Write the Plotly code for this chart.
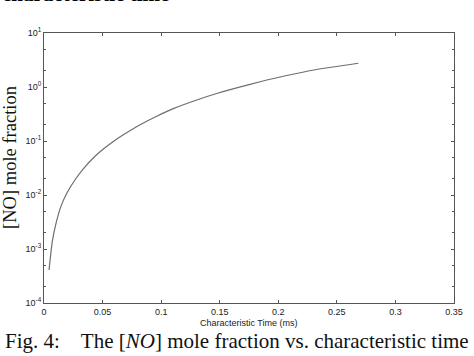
import plotly.graph_objects as go

# Data
time_ms = [0.0043, 0.0071, 0.0100, 0.0143, 0.0199, 0.0271, 0.0341, 0.0427,
           0.0512, 0.0598, 0.0677, 0.0820, 0.0962, 0.1104, 0.1304, 0.1474,
           0.1759, 0.2043, 0.2328, 0.2683]
no_frac = [4.08e-4, 1.38e-3, 2.82e-3, 6.03e-3, 0.0112, 0.0200, 0.0316, 0.0501,
           0.0724, 0.100, 0.130, 0.200, 0.288, 0.398, 0.575, 0.759,
           1.12, 1.58, 2.11, 2.75]

x_ticks = [0, 0.05, 0.1, 0.15, 0.2, 0.25, 0.3, 0.35]
x_ticktext = ["0", "0.05", "0.1", "0.15", "0.2", "0.25", "0.3", "0.35"]
y_exps = [-4, -3, -2, -1, 0, 1]

axis_col = "#555555"
tick_font = dict(family="Liberation Sans, Arial, sans-serif", size=9, color="#222222")
serif = "Liberation Serif, Times New Roman, serif"

fig = go.Figure()
fig.add_trace(go.Scatter(x=time_ms, y=no_frac, mode="lines",
                         line=dict(color="#6e6e6e", width=1.2, shape="spline", smoothing=0.6),
                         showlegend=False, hoverinfo="skip"))

fig.update_layout(
    width=474, height=356,
    margin=dict(l=44, r=20, t=33, b=53),
    paper_bgcolor="white", plot_bgcolor="white",
    xaxis=dict(range=[0, 0.35], tickvals=x_ticks, ticktext=x_ticktext,
               ticks="inside", ticklen=3, tickcolor=axis_col,
               showline=True, linecolor=axis_col, linewidth=1, mirror="ticks",
               showgrid=False, zeroline=False, tickfont=tick_font),
    yaxis=dict(type="log", range=[-4, 1],
               tickvals=[10 ** e for e in y_exps],
               ticktext=["10<sup>%d</sup>" % e for e in y_exps],
               ticks="inside", ticklen=3, tickcolor=axis_col,
               minor=dict(ticks="inside", ticklen=2, tickcolor=axis_col, showgrid=False),
               showline=True, linecolor=axis_col, linewidth=1, mirror="allticks",
               showgrid=False, zeroline=False, tickfont=tick_font),
    annotations=[
        dict(text="[NO] mole fraction", textangle=-90, xref="paper", yref="paper",
             x=-0.083, y=0.541, xanchor="center", yanchor="middle", showarrow=False,
             font=dict(family=serif, size=18.5, color="#111111")),
        dict(text="Characteristic Time (ms)", xref="paper", yref="paper",
             x=0.5, y=-0.073, xanchor="center", yanchor="middle", showarrow=False,
             font=dict(family="Liberation Sans, Arial, sans-serif", size=9, color="#222222")),
        dict(text="Fig. 4:\u00a0\u00a0\u00a0\u00a0The [<i>NO</i>] mole fraction vs. characteristic time",
             xref="paper", yref="paper", x=-0.1, y=-0.142, xanchor="left", yanchor="middle",
             showarrow=False, font=dict(family=serif, size=21, color="#111111")),
        dict(text="<b>characteristic time</b>", xref="paper", yref="paper",
             x=-0.107, y=1.094, xanchor="left", yanchor="bottom", showarrow=False,
             font=dict(family=serif, size=21, color="#000000")),
    ],
)

fig.write_html("out.html", config={"displayModeBar": False},
               post_script="document.body.style.margin='0';document.body.style.padding='0';")
